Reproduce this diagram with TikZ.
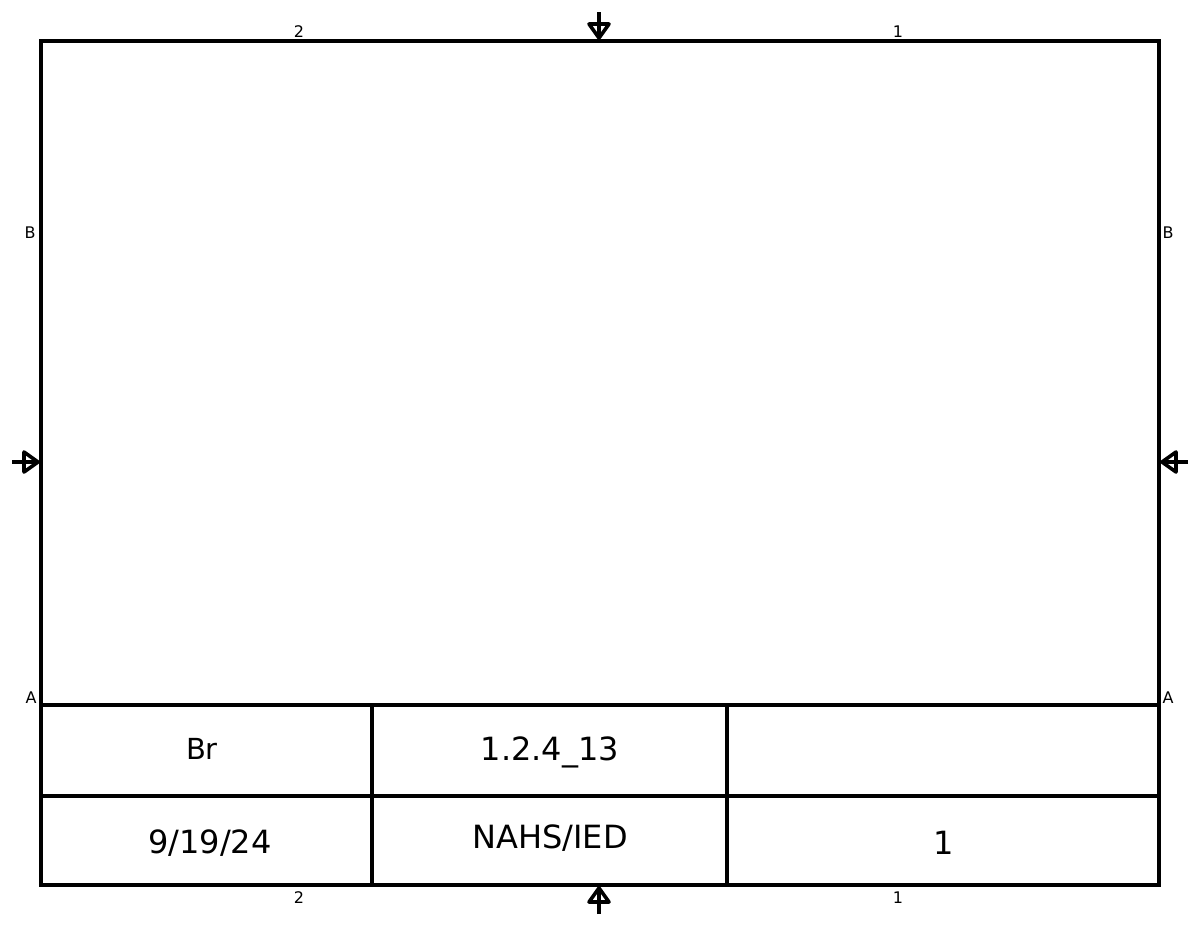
\documentclass[tikz,border=0pt]{standalone}
\usepackage{fontspec}
\setmainfont{DejaVu Sans}
\tikzset{
  frameline/.style={line width=3.6pt},
  markline/.style={line width=3.6pt},
  zonelabel/.style={anchor=base, font=\fontsize{16}{17}\selectfont, inner sep=0pt},
  blocktext/.style={anchor=base, font=\fontsize{32}{36}\selectfont, inner sep=0pt}
}
\begin{document}
\begin{tikzpicture}[x=1pt, y=-1pt]
    \useasboundingbox (0,0) rectangle (1200,927);
    % outer frame and title block
    \draw[frameline] (41,41) rectangle (1159,885);
    \draw[frameline]
      (41,705) -- (1159,705)
      (41,796) -- (1159,796)
      (372,705) -- (372,885)
      (727,705) -- (727,885)
    ;
    % centring marks
    \foreach \x/\y/\r in {599/41/0, 599/885/180, 41/462/90, 1159/462/-90} {
      \begin{scope}[shift={(\x,\y)}, rotate=\r]
        \draw[markline, line join=round] (0,-3) -- (-10,-17) -- (10,-17) -- cycle;
        \draw[markline] (0,-29) -- (0,-3);
      \end{scope}
    }
    % zone labels
    \foreach \x/\y/\t in {299/37/2, 898/37/1, 299/903/2, 898/903/1, 30/238/B, 1168/238/B, 31/703/A, 1168/703/A} {
      \node[zonelabel] at (\x,\y) {\t};
    }
    % title block texts
    \node[blocktext, font=\fontsize{29}{32}\selectfont] (drawnby) at (202,759) {Br};
    \node[blocktext] (drawingno) at (550,760) {1.2.4\_13};
    \node[blocktext] (datefield) at (210,853) {9/19/24};
    \node[blocktext] (school) at (550,848) {NAHS/IED};
    \node[blocktext] (sheetno) at (944,854) {1};
  \end{tikzpicture}
\end{document}
